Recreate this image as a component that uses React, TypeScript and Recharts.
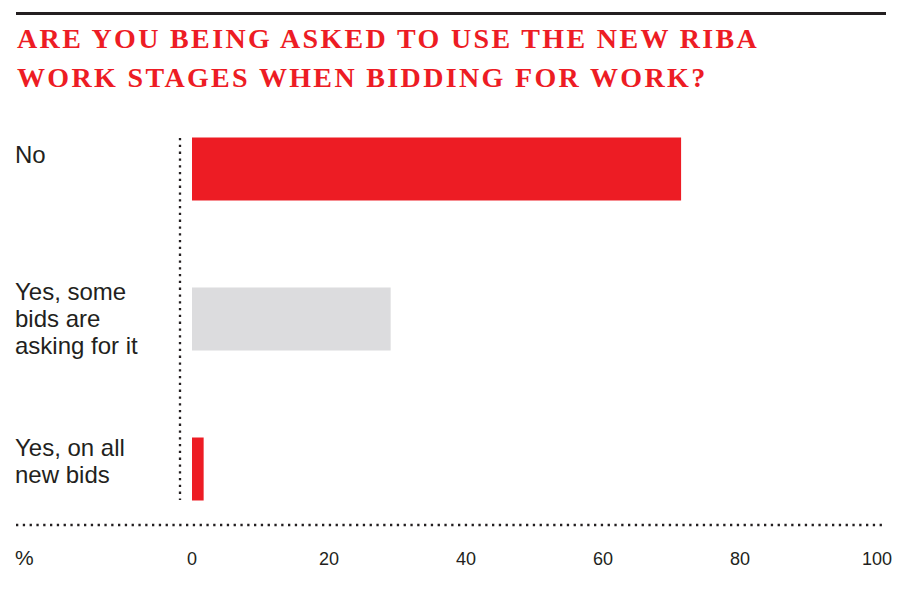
import { Bar, BarChart, Cell, XAxis, YAxis } from "recharts"

// survey answers, top to bottom
const categories = ["No", "Yes, some bids are asking for it", "Yes, on all new bids"]
const categoryLines = [["No"], ["Yes, some", "bids are", "asking for it"], ["Yes, on all", "new bids"]]
const shares = [71.4, 29, 1.7]
const barColors = ["#ed1c24", "#dcdcde", "#ed1c24"]
const xTicks = [0, 20, 40, 60, 80, 100]
const titleLines = ["ARE YOU BEING ASKED TO USE THE NEW RIBA", "WORK STAGES WHEN BIDDING FOR WORK?"]

const data = categories.map((name, i) => ({ name, value: shares[i], lines: categoryLines[i] }))

const TEXT = "#231f20"
const SANS = "'Liberation Sans', Arial, sans-serif"

function CategoryTick({ y, payload }: any) {
  const lines = categoryLines[payload.index] ?? [payload.value]
  const first = y - 6 - (lines.length - 1) * 6.5
  return (
    <text x={15} y={first} textAnchor="start" fill={TEXT} fontSize={24} fontFamily={SANS}>
      {lines.map((line, i) => (
        <tspan key={line} x={15} y={first + i * 27}>
          {line}
        </tspan>
      ))}
    </text>
  )
}

function ValueTick({ x, y, payload }: any) {
  return (
    <text x={x} y={y + 13} textAnchor="middle" fill={TEXT} fontSize={18} fontFamily={SANS}>
      {payload.value}
    </text>
  )
}

export default function App() {
  return (
    <div style={{ position: "absolute", left: 0, top: 0, width: 905, height: 597, background: "#fff" }}>
      <BarChart
        width={905}
        height={597}
        data={data}
        layout="vertical"
        margin={{ top: 93.5, right: 28, bottom: 23.5, left: 0 }}
      >
        <XAxis
          type="number"
          domain={[0, 100]}
          ticks={xTicks}
          axisLine={false}
          tickLine={false}
          height={30}
          tick={<ValueTick />}
        />
        <YAxis
          type="category"
          dataKey="name"
          width={192}
          axisLine={false}
          tickLine={false}
          tick={<CategoryTick />}
        />
        <Bar dataKey="value" barSize={63} isAnimationActive={false}>
          {data.map((entry, index) => (
            <Cell key={entry.name} fill={barColors[index]} />
          ))}
        </Bar>
      </BarChart>
      <svg
        width={905}
        height={597}
        style={{ position: "absolute", left: 0, top: 0, pointerEvents: "none" }}
      >
        <rect x={16} y={12} width={870} height={3} fill={TEXT} />
        {titleLines.map((line, i) => (
          <text
            key={line}
            x={17}
            y={48 + i * 39}
            fill="#ed1c24"
            fontSize={28}
            fontWeight="bold"
            letterSpacing={2.35}
            fontFamily="'Liberation Serif', 'Times New Roman', serif"
          >
            {line}
          </text>
        ))}
        <line x1={180} y1={138} x2={180} y2={500} stroke={TEXT} strokeWidth={2.3} strokeDasharray="2.3 4.5" />
        <line x1={16} y1={525} x2={886} y2={525} stroke={TEXT} strokeWidth={2.3} strokeDasharray="2.3 4.5" />
        <text x={15} y={565} fill={TEXT} fontSize={21} fontFamily={SANS}>
          %
        </text>
      </svg>
    </div>
  )
}
